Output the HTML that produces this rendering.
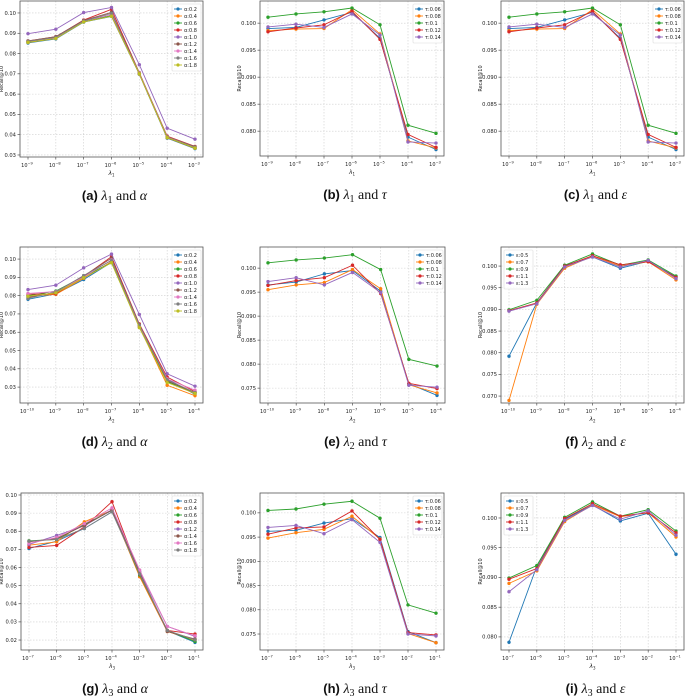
<!DOCTYPE html>
<html><head><meta charset="utf-8">
<style>
html,body{margin:0;padding:0;background:#fff;}
svg{display:block;font-family:"DejaVu Sans","Liberation Sans",sans-serif;}
.cap{font-family:"Liberation Serif",serif;font-size:14px;}
</style></head>
<body>
<svg id="chart" width="685" height="697" viewBox="0 0 685 697" xmlns="http://www.w3.org/2000/svg"></svg>
<script>
const COLORS=["#1f77b4","#ff7f0e","#2ca02c","#d62728","#9467bd","#8c564b","#e377c2","#7f7f7f","#bcbd22"];
const alphaLabels9=["α:0.2","α:0.4","α:0.6","α:0.8","α:1.0","α:1.2","α:1.4","α:1.6","α:1.8"];
const alphaLabels8=["α:0.2","α:0.4","α:0.6","α:0.8","α:1.2","α:1.4","α:1.6","α:1.8"];
const tauLabels=["τ:0.06","τ:0.08","τ:0.1","τ:0.12","τ:0.14"];
const epsLabels=["ε:0.5","ε:0.7","ε:0.9","ε:1.1","ε:1.3"];
const xExp1=[-9,-8,-7,-6,-5,-4,-3];
const xExp2=[-10,-9,-8,-7,-6,-5,-4];
const xExp3=[-7,-6,-5,-4,-3,-2,-1];
const yTicksAlpha=[0.03,0.04,0.05,0.06,0.07,0.08,0.09,0.10];
const yTicksAlphaG=[0.02,0.03,0.04,0.05,0.06,0.07,0.08,0.09,0.10];
const yTicksB=[0.080,0.085,0.090,0.095,0.100];
const yTicksE=[0.075,0.080,0.085,0.090,0.095,0.100];
const yTicksF=[0.070,0.075,0.080,0.085,0.090,0.095,0.100];

const valuesA=[
[.0852,.0872,.0955,.0983,.0698,.0383,.0331],
[.0855,.0875,.0957,.0985,.0699,.0385,.0333],
[.0857,.0876,.0958,.0987,.0701,.0386,.0334],
[.0862,.0883,.0965,.1018,.0705,.0393,.0342],
[.0898,.0920,.1002,.1027,.0745,.0432,.0378],
[.0862,.0883,.0963,.1003,.0705,.0390,.0341],
[.0859,.0878,.0960,.0992,.0703,.0389,.0337],
[.0860,.0880,.0960,.0998,.0700,.0388,.0338],
[.0855,.0874,.0956,.0984,.0700,.0386,.0334]];
const valuesB=[
[.0990,.0992,.1006,.1020,.0972,.0789,.0766],
[.0986,.0989,.0990,.1025,.0980,.0782,.0769],
[.1011,.1017,.1021,.1028,.0997,.0811,.0796],
[.0984,.0991,.0997,.1022,.0970,.0794,.0770],
[.0993,.0998,.0992,.1017,.0978,.0780,.0778]];
const valuesC=[
[.0990,.0992,.1006,.1020,.0972,.0789,.0766],
[.0986,.0989,.0990,.1025,.0980,.0782,.0769],
[.1011,.1017,.1021,.1028,.0997,.0811,.0796],
[.0984,.0991,.0997,.1022,.0970,.0794,.0770],
[.0993,.0998,.0992,.1017,.0978,.0780,.0778]];
const valuesD=[
[.0780,.0810,.0888,.0982,.0640,.0345,.0260],
[.0798,.0807,.0895,.0985,.0630,.0310,.0253],
[.0800,.0825,.0905,.0980,.0635,.0330,.0270],
[.0808,.0810,.0905,.1013,.0645,.0355,.0275],
[.0833,.0857,.0952,.1027,.0697,.0373,.0305],
[.0790,.0818,.0908,.1005,.0640,.0335,.0268],
[.0812,.0822,.0902,.0995,.0635,.0345,.0283],
[.0785,.0820,.0910,.0992,.0640,.0340,.0270],
[.0797,.0815,.0898,.0980,.0625,.0325,.0265]];
const valuesE=[
[.0965,.0971,.0988,.0995,.0952,.0759,.0735],
[.0955,.0965,.0970,.0997,.0957,.0757,.0740],
[.1011,.1017,.1021,.1028,.0997,.0810,.0796],
[.0964,.0974,.0980,.1006,.0947,.0760,.0749],
[.0972,.0980,.0965,.0991,.0949,.0756,.0752]];
const valuesF=[
[.0792,.0915,.1001,.1021,.0995,.1011,.0975],
[.0690,.0912,.0995,.1023,.1000,.1010,.0968],
[.0899,.0921,.1002,.1028,.1002,.1014,.0977],
[.0897,.0915,.1000,.1024,.1003,.1010,.0974],
[.0896,.0913,.0998,.1021,.0998,.1013,.0971]];
const valuesG=[
[.0705,.0745,.0815,.0907,.0568,.0251,.0187],
[.0723,.0742,.0852,.0916,.0549,.0247,.0200],
[.0747,.0755,.0837,.0916,.0559,.0253,.0192],
[.0711,.0722,.0824,.0963,.0564,.0253,.0233],
[.0727,.0777,.0830,.0919,.0577,.0275,.0220],
[.0742,.0760,.0833,.0916,.0571,.0247,.0205],
[.0733,.0766,.0842,.0929,.0586,.0275,.0223],
[.0745,.0755,.0815,.0907,.0564,.0253,.0201]];
const valuesH=[
[.0962,.0964,.0979,.0988,.0949,.0755,.0732],
[.0948,.0959,.0966,.0993,.0946,.0751,.0732],
[.1005,.1008,.1018,.1024,.0989,.0810,.0793],
[.0956,.0969,.0971,.1004,.0945,.0753,.0748],
[.0970,.0974,.0957,.0986,.0939,.0750,.0746]];
const valuesI=[
[.0791,.0919,.0998,.1022,.0995,.1008,.0939],
[.0890,.0911,.0994,.1022,.1002,.1009,.0968],
[.0899,.0920,.1001,.1027,.1003,.1014,.0978],
[.0897,.0915,.0999,.1024,.1003,.1009,.0975],
[.0876,.0913,.0996,.1021,.0998,.1012,.0971]];

const NS="http://www.w3.org/2000/svg";
const svg=document.getElementById('chart');
function mk(tag,attrs,parent){const e=document.createElementNS(NS,tag);for(const k in attrs)e.setAttribute(k,attrs[k]);(parent||svg).appendChild(e);return e;}

const panels=[
 {id:'a',L:20,R:203,T:1,B:157,ymin:.0290,ymax:.1059,yt:yTicksAlpha,dec:2,xe:xExp1,sub:'1',vals:valuesA,labs:alphaLabels9,leg:'r',param:'α'},
 {id:'b',L:260,R:444,T:1,B:156,ymin:.0754,ymax:.1041,yt:yTicksB,dec:3,xe:xExp1,sub:'1',vals:valuesB,labs:tauLabels,leg:'r',param:'τ'},
 {id:'c',L:501,R:684,T:1,B:156,ymin:.0754,ymax:.1041,yt:yTicksB,dec:3,xe:xExp1,sub:'1',vals:valuesC,labs:tauLabels,leg:'r',param:'ε'},
 {id:'d',L:20,R:203,T:247,B:403,ymin:.0213,ymax:.1066,yt:yTicksAlpha,dec:2,xe:xExp2,sub:'2',vals:valuesD,labs:alphaLabels9,leg:'r',param:'α'},
 {id:'e',L:260,R:445,T:247,B:403,ymin:.0719,ymax:.1044,yt:yTicksE,dec:3,xe:xExp2,sub:'2',vals:valuesE,labs:tauLabels,leg:'r',param:'τ'},
 {id:'f',L:501,R:684,T:247,B:403,ymin:.0684,ymax:.1044,yt:yTicksF,dec:3,xe:xExp2,sub:'2',vals:valuesF,labs:epsLabels,leg:'l',param:'ε'},
 {id:'g',L:21,R:203,T:493,B:650,ymin:.0145,ymax:.1011,yt:yTicksAlphaG,dec:2,xe:xExp3,sub:'3',vals:valuesG,labs:alphaLabels8,leg:'r',param:'α'},
 {id:'h',L:260,R:444,T:493,B:650,ymin:.0717,ymax:.1041,yt:yTicksE,dec:3,xe:xExp3,sub:'3',vals:valuesH,labs:tauLabels,leg:'r',param:'τ'},
 {id:'i',L:501,R:684,T:493,B:650,ymin:.0778,ymax:.1042,yt:yTicksB,dec:3,xe:xExp3,sub:'3',vals:valuesI,labs:epsLabels,leg:'l',param:'ε'}
];

panels.forEach(p=>{
 const g=mk('g',{});
 
 
 const inset=8;
 const n=p.xe.length;
 const xs=i=>p.L+inset+i*(p.R-p.L-2*inset)/(n-1);
 const ys=v=>p.B-(v-p.ymin)/(p.ymax-p.ymin)*(p.B-p.T);
 p.yt.forEach(v=>{
  const y=ys(v);
  const gl=mk('line',{x1:p.L,x2:p.R,y1:y,y2:y,stroke:'#cfcfcf','stroke-width':0.6,'stroke-dasharray':'1.5,1.5'},g);
  
  
  mk('line',{x1:p.L-2.5,x2:p.L,y1:y,y2:y,stroke:'#333','stroke-width':0.6},g);
  const t=mk('text',{x:p.L-4,y:y+1.8,'font-size':5.2,'text-anchor':'end',fill:'#222'},g);
  t.textContent=v.toFixed(p.dec);
  
  
 });
 p.xe.forEach((e,i)=>{
  const x=xs(i);
  const gl=mk('line',{x1:x,x2:x,y1:p.T,y2:p.B,stroke:'#cfcfcf','stroke-width':0.6,'stroke-dasharray':'1.5,1.5'},g);
  
  
  mk('line',{x1:x,x2:x,y1:p.B,y2:p.B+2.5,stroke:'#333','stroke-width':0.6},g);
  const t=mk('text',{x:x-1,y:p.B+10,'font-size':5,'text-anchor':'middle',fill:'#222'},g);
  
  
  t.appendChild(document.createTextNode('10'));
  const s=mk('tspan',{dy:-2.5,'font-size':3.6},t);s.textContent=String(e).replace('-','−');
 });
 const fr=mk('rect',{x:p.L,y:p.T,width:p.R-p.L,height:p.B-p.T,fill:'none',stroke:'#555','stroke-width':0.8},g);
 
 
 const ylx=Math.max(3,p.L-19);
 const yl=mk('text',{x:0,y:0,'font-size':5,'text-anchor':'middle',fill:'#222',transform:`translate(${ylx},${(p.T+p.B)/2}) rotate(-90)`},g);
 yl.textContent='Recall@10';
 
 
 const xl=mk('text',{x:(p.L+p.R)/2,y:p.B+18,'font-size':6,'text-anchor':'middle',fill:'#222','font-style':'italic'},g);
 
 
 xl.appendChild(document.createTextNode('λ'));
 const xs2=mk('tspan',{dy:1.5,'font-size':4,'font-style':'normal'},xl);xs2.textContent=p.sub;
 p.vals.forEach((arr,si)=>{
  const c=COLORS[si];
  const pts=arr.map((v,i)=>xs(i).toFixed(2)+','+ys(v).toFixed(2)).join(' ');
  const pl=mk('polyline',{points:pts,fill:'none',stroke:c,'stroke-width':0.9},g);
  
  
  arr.forEach((v,i)=>{
   const m=mk('circle',{cx:xs(i),cy:ys(v),r:1.7,fill:c},g);
   
   
  });
 });
 const rowH=7, lw=29, lh=p.labs.length*rowH+4;
 const lx=p.leg==='r'?p.R-lw-2:p.L+3, ly=p.T+3;
 const lg=mk('g',{},g);
 
 
 mk('rect',{x:lx,y:ly,width:lw,height:lh,fill:'#fff','fill-opacity':0.85,stroke:'#ddd','stroke-width':0.6,rx:1},lg);
 p.labs.forEach((lab,si)=>{
  const yy=ly+5+si*rowH;
  const e=mk('g',{},lg);
  
  
  mk('line',{x1:lx+2,x2:lx+10,y1:yy,y2:yy,stroke:COLORS[si],'stroke-width':0.9},e);
  mk('circle',{cx:lx+6,cy:yy,r:1.6,fill:COLORS[si]},e);
  const t=mk('text',{x:lx+12,y:yy+1.8,'font-size':5,fill:'#222'},e);t.textContent=lab;
 });
 const capY=p.B+43;
 const cap=mk('text',{x:(p.L+p.R)/2+3,y:capY,'text-anchor':'middle',class:'cap',fill:'#111'},g);
 
 
 const b=mk('tspan',{'font-family':'Liberation Sans, sans-serif','font-weight':'bold','font-size':13},cap);b.textContent='('+p.id+') ';
 const l1=mk('tspan',{'font-style':'italic'},cap);l1.textContent='λ';
 const l2=mk('tspan',{dy:3,'font-size':10},cap);l2.textContent=p.sub;
 const l3=mk('tspan',{dy:-3},cap);l3.textContent=' and ';
 const l4=mk('tspan',{'font-style':'italic'},cap);l4.textContent=p.param;
});
</script>
</body></html>
